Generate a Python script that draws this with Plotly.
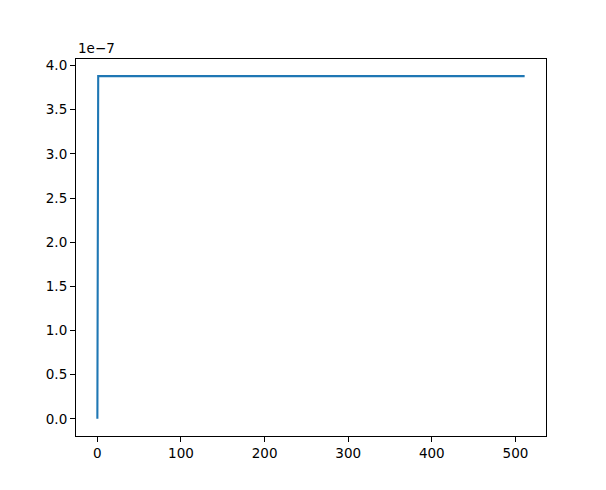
import plotly.graph_objects as go

# step at the start, then flat up to the last sample
x_values = [0, 1, 511]
y_values = [0.0, 3.88e-7, 3.88e-7]

x_ticks = [0, 100, 200, 300, 400, 500]
y_ticks = [0.0, 0.5e-7, 1.0e-7, 1.5e-7, 2.0e-7, 2.5e-7, 3.0e-7, 3.5e-7, 4.0e-7]
y_tick_labels = ["0.0", "0.5", "1.0", "1.5", "2.0", "2.5", "3.0", "3.5", "4.0"]

fig = go.Figure()
fig.add_trace(go.Scatter(x=x_values, y=y_values, mode="lines",
                         line=dict(color="#1f77b4", width=2.1)))

axis_style = dict(showgrid=False, zeroline=False, showline=True, linecolor="black",
                  linewidth=1.1, mirror=True, ticks="outside", ticklen=5,
                  tickwidth=1.1, tickcolor="black",
                  tickfont=dict(family="DejaVu Sans", size=13.5, color="black"))

# page body adds 8px, so margins are shifted to land the axes where the reference has them
fig.update_layout(
    width=606, height=490,
    margin=dict(l=68, r=68, t=51, b=62),
    plot_bgcolor="white", paper_bgcolor="white",
    showlegend=False,
    xaxis=dict(range=[-25.55, 536.55], tickvals=x_ticks, **axis_style),
    yaxis=dict(range=[-0.194e-7, 4.074e-7], tickvals=y_ticks, ticktext=y_tick_labels, **axis_style),
)
fig.add_annotation(text="1e\u22127", xref="paper", yref="paper", x=0, y=1,
                   xanchor="left", yanchor="bottom", yshift=1, showarrow=False,
                   font=dict(family="DejaVu Sans", size=13.5, color="black"))

fig.write_html("out.html")
